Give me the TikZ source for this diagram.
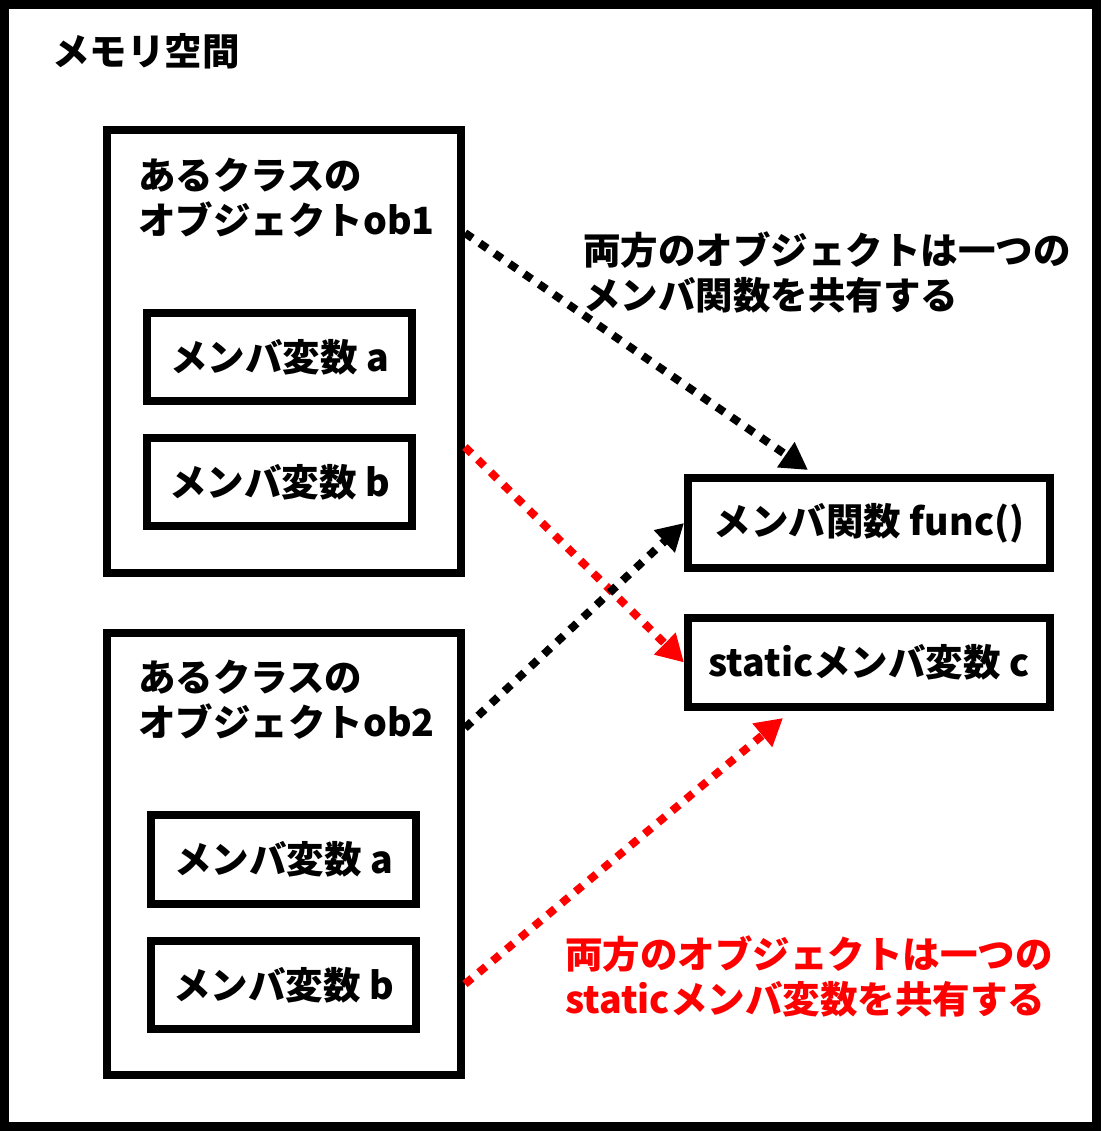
\documentclass[tikz,border=0pt]{standalone}
\usepackage{fontspec}
\setmainfont{Noto Sans CJK JP}
\usetikzlibrary{arrows.meta}
\definecolor{myred}{RGB}{255,0,0}
\tikzset{
  frame/.style={draw=black, line width=8pt, fill=white, inner sep=0pt},
  lbl/.style={font=\fontsize{37.5}{45}\selectfont\bfseries, inner sep=0pt, align=left, anchor=west},
  boxtext/.style={font=\fontsize{37.5}{45}\selectfont\bfseries},
  dotarrow/.style={line width=8pt, dash pattern=on 9pt off 9pt, line cap=butt,
    -{Triangle[length=27pt,width=29pt]}},
}
\begin{document}
\begin{tikzpicture}[x=1pt,y=-1pt]
\useasboundingbox (0,0) rectangle (1101,1131);
\fill[white] (0,0) rectangle (1101,1131);
\draw[line width=9pt] (4.5,4.5) rectangle (1096.5,1126.5);
\node[lbl] (memlbl) at (52,51.5) {メモリ空間};

% object boxes
\node[frame, minimum width=354pt, minimum height=443pt] (ob1) at (284,351.5) {};
\node[frame, minimum width=354pt, minimum height=442pt] (ob2) at (284,854) {};
\node[lbl] (ob1lbl) at (138,198) {あるクラスの\\オブジェクトob1};
\node[lbl] (ob2lbl) at (138,700) {あるクラスの\\オブジェクトob2};

% member boxes
\node[frame, minimum width=265pt, minimum height=88pt, boxtext] (a1) at (279.5,357) {メンバ変数 a};
\node[frame, minimum width=265pt, minimum height=88pt, boxtext] (b1) at (279.5,482) {メンバ変数 b};
\node[frame, minimum width=265pt, minimum height=89pt, boxtext] (a2) at (283.5,859.5) {メンバ変数 a};
\node[frame, minimum width=265pt, minimum height=88pt, boxtext] (b2) at (283.5,985) {メンバ変数 b};

\node[frame, minimum width=362pt, minimum height=90pt, boxtext] (func) at (869,523) {メンバ関数 func()};
\node[frame, minimum width=362pt, minimum height=89pt, boxtext] (stat) at (869,662.5) {staticメンバ変数 c};

% labels
\node[lbl] (blacklbl) at (583,272) {両方のオブジェクトは一つの\\メンバ関数を共有する};
\node[lbl, text=myred] (redlbl) at (565,976) {両方のオブジェクトは一つの\\staticメンバ変数を共有する};

% connectors
\draw[dotarrow, black] ([yshift=-107pt]ob1.north east) -- ([xshift=124pt,yshift=4pt]func.north west);
\draw[dotarrow, myred] ([yshift=-321pt]ob1.north east) -- (stat.west);
\draw[dotarrow, black] ([yshift=-99pt]ob2.north east) -- (func.west);
\draw[dotarrow, myred] ([yshift=-355pt]ob2.north east) -- ([xshift=99pt,yshift=-7pt]stat.south west);
\end{tikzpicture}
\end{document}
